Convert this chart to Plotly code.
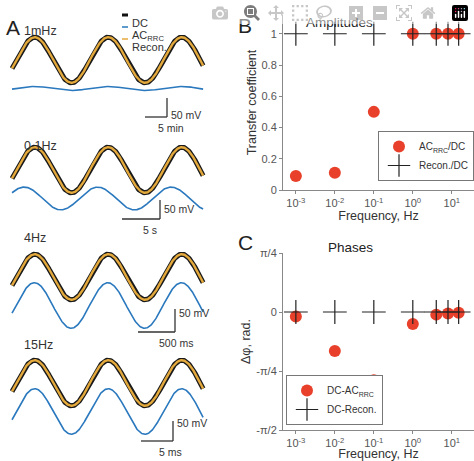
import numpy as np
import plotly.graph_objects as go

# ---- data ----
freqs = [0.001, 0.01, 0.1, 1, 4, 8, 15]
amp_ac = [0.09, 0.11, 0.50, 1.0, 1.0, 1.0, 1.0]
amp_recon = [1, 1, 1, 1, 1, 1, 1]
phase_ac = [-0.06, -0.52, -0.91, -0.16, -0.035, -0.02, -0.01]
phase_recon = [0, 0, 0, 0, 0, 0, 0]
panel_labels = ["1mHz", "0.1Hz", "4Hz", "15Hz"]
panel_ac_ratio = [0.09, 0.50, 1.0, 1.0]
panel_ac_phase = [-0.06, -0.91, -0.035, -0.01]
scale_time_labels = ["5 min", "5 s", "500 ms", "5 ms"]
dc_amp_mv = 60
ac_offset_mv = -75
n_periods = 2.6

W, H = 474, 461
ORANGE = "#e3a93c"; BLUE = "#2a78bd"; RED = "#e8402a"; GRAY = "#555555"
FONT = "Liberation Sans"

def dx(px0, px1): return [px0 / W, px1 / W]
def dy(pyt, pyb): return [1 - pyb / H, 1 - pyt / H]

fig = go.Figure()
k = 50 / 19.0
px_per_period = 73.5
boxes = [(5, 122, 60), (125, 235, 170), (240, 345, 277), (350, 458, 383)]
bars = [(167, 98, 117, 145), (160, 200, 219, 122), (175, 309, 332, 138), (173, 421, 441, 141)]
label_py = [22, 137, 238, 354]
theta0 = -0.38
t = np.linspace(0, n_periods, 400)
for i in range(4):
    top, bot, c = boxes[i]
    xa = f"x{i+1}" if i else "x"; ya = f"y{i+1}" if i else "y"
    xl = f"xaxis{i+1}" if i else "xaxis"; yl = f"yaxis{i+1}" if i else "yaxis"
    th = 2 * np.pi * t + theta0
    dc = dc_amp_mv * np.sin(th)
    ac = ac_offset_mv + dc_amp_mv * panel_ac_ratio[i] * np.sin(th - panel_ac_phase[i])
    fig.add_trace(go.Scatter(x=t, y=ac, mode="lines", line=dict(color=BLUE, width=1.6),
                             xaxis=xa, yaxis=ya, showlegend=False))
    fig.add_trace(go.Scatter(x=t, y=dc, mode="lines", line=dict(color="#1a1a1a", width=5),
                             xaxis=xa, yaxis=ya, showlegend=False))
    fig.add_trace(go.Scatter(x=t, y=dc, mode="lines", line=dict(color=ORANGE, width=2.4),
                             xaxis=xa, yaxis=ya, showlegend=False))
    fig.update_layout(**{
        xl: dict(domain=dx(0, 230), range=[(0 - 12) / px_per_period, (230 - 12) / px_per_period],
                 visible=False, anchor=ya),
        yl: dict(domain=dy(top, bot), range=[-(bot - c) * k, (c - top) * k], visible=False, anchor=xa),
    })
    fx = lambda px: (px - 12) / px_per_period
    fy = lambda py, c=c: (c - py) * k
    vx, vt, vb, hx0 = bars[i]
    fig.add_shape(type="line", xref=xa, yref=ya, x0=fx(vx), x1=fx(vx), y0=fy(vt), y1=fy(vb),
                  line=dict(color="#333", width=1.3))
    fig.add_shape(type="line", xref=xa, yref=ya, x0=fx(hx0), x1=fx(vx), y0=fy(vb), y1=fy(vb),
                  line=dict(color="#333", width=1.3))
    fig.add_annotation(x=(vx + 2) / W, y=1 - (vt + vb) / 2 / H, xref="paper", yref="paper",
                       text="50 mV", showarrow=False, xanchor="left", font=dict(size=10.5, color="#333", family=FONT))
    fig.add_annotation(x=(hx0 + vx) / 2 / W, y=1 - (vb + 3) / H, xref="paper", yref="paper",
                       text=scale_time_labels[i], showarrow=False, yanchor="top",
                       font=dict(size=10.5, color="#333", family=FONT))
    fig.add_annotation(x=22 / W, y=1 - label_py[i] / H, xref="paper", yref="paper",
                       text=panel_labels[i], showarrow=False, xanchor="left",
                       font=dict(size=12.5, color="#333", family=FONT))

# panel A legend
for j, (col, lab) in enumerate([("#111", "DC"), (BLUE, "AC<sub>RRC</sub>"), (ORANGE, "Recon.")]):
    py = 15 + 12 * j
    fig.add_shape(type="line", xref="paper", yref="paper", x0=122 / W, x1=128 / W,
                  y0=1 - py / H, y1=1 - py / H, line=dict(color=col, width=3 if j == 0 else 1.5))
    fig.add_annotation(x=130 / W, y=1 - py / H, xref="paper", yref="paper", text=lab, showarrow=False,
                       xanchor="left", font=dict(size=11, color="#333", family=FONT))

# panel B
fig.add_trace(go.Scatter(x=freqs, y=amp_ac, mode="markers", name="AC<sub>RRC</sub>/DC",
                         marker=dict(color=RED, size=12), xaxis="x5", yaxis="y5", legend="legend"))
fig.add_trace(go.Scatter(x=freqs, y=amp_recon, mode="markers", name="Recon./DC",
                         marker=dict(symbol="cross-thin", size=17, line=dict(color="#222", width=1.2)),
                         xaxis="x5", yaxis="y5", legend="legend"))
# panel C
fig.add_trace(go.Scatter(x=freqs, y=phase_ac, mode="markers", name="DC-AC<sub>RRC</sub>",
                         marker=dict(color=RED, size=12), xaxis="x6", yaxis="y6", legend="legend2"))
fig.add_trace(go.Scatter(x=freqs, y=phase_recon, mode="markers", name="DC-Recon.",
                         marker=dict(symbol="cross-thin", size=17, line=dict(color="#222", width=1.2)),
                         xaxis="x6", yaxis="y6", legend="legend2"))

tickfont = dict(size=11, color=GRAY, family=FONT)
xcommon = dict(type="log", range=[-3.33, 1.57], tickvals=[0.001, 0.01, 0.1, 1, 10],
               ticktext=["10<sup>-3</sup>", "10<sup>-2</sup>", "10<sup>-1</sup>", "10<sup>0</sup>", "10<sup>1</sup>"],
               showgrid=False, zeroline=False, showline=True, linecolor="#888", ticks="outside",
               ticklen=3, tickcolor="#888", tickfont=tickfont, automargin=False,
               title=dict(text="Frequency, Hz", font=dict(size=12.5, color="#333", family=FONT), standoff=2))
yfont = dict(size=12.5, color="#333", family=FONT)
fig.update_layout(
    xaxis5=dict(domain=dx(283, 474), anchor="y5", **xcommon),
    yaxis5=dict(domain=dy(15, 190), anchor="x5", range=[0, 1.12], tickvals=[0, 0.2, 0.4, 0.6, 0.8, 1],
                ticktext=["0", "0.2", "0.4", "0.6", "0.8", "1"], showgrid=False, zeroline=False,
                showline=True, linecolor="#888", ticks="outside", ticklen=3, tickcolor="#888", tickfont=tickfont,
                automargin=False, title=dict(text="Transfer coefficient", font=yfont, standoff=2)),
    xaxis6=dict(domain=dx(283, 474), anchor="y6", **xcommon),
    yaxis6=dict(domain=dy(253, 430), anchor="x6", range=[-np.pi / 2, np.pi / 4],
                tickvals=[-np.pi / 2, -np.pi / 4, 0, np.pi / 4], ticktext=["-π/2", "-π/4", "0", "π/4"],
                showgrid=False, zeroline=False, showline=True, linecolor="#888", ticks="outside",
                ticklen=3, tickcolor="#888", tickfont=tickfont, automargin=False,
                title=dict(text="Δφ, rad.", font=yfont, standoff=2)),
    legend=dict(x=1, y=1 - 131 / H, xanchor="right", yanchor="top", bordercolor="#777", borderwidth=1,
                bgcolor="white", font=dict(size=10, color="#333", family=FONT), tracegroupgap=0,
                itemwidth=30),
    legend2=dict(x=286 / W, y=1 - 375 / H, xanchor="left", yanchor="top", bordercolor="#777", borderwidth=1,
                 bgcolor="white", font=dict(size=10, color="#333", family=FONT), tracegroupgap=0,
                 itemwidth=30),
    width=W, height=H, margin=dict(l=0, r=0, t=0, b=0),
    paper_bgcolor="white", plot_bgcolor="white",
)
for txt, px, py in [("A", 4, 14), ("B", 236, 12), ("C", 236, 242)]:
    fig.add_annotation(x=px / W, y=1 - py / H, xref="paper", yref="paper", text=txt, showarrow=False,
                       xanchor="left", font=dict(size=21, color="#222", family=FONT))
for txt, py in [("Amplitudes", 13), ("Phases", 247)]:
    fig.add_annotation(x=375 / W, y=1 - py / H, xref="paper", yref="paper", text=txt, showarrow=False,
                       font=dict(size=13.5, color="#222", family=FONT))

fig.write_html("out.html", post_script="document.body.style.margin='0';document.body.style.overflow='hidden';")
